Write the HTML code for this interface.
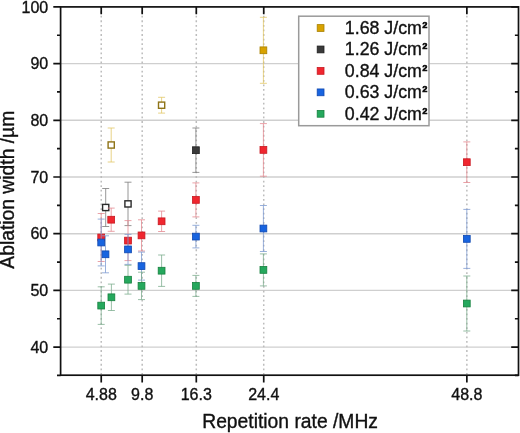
<!DOCTYPE html>
<html><head><meta charset="utf-8"><title>Ablation width vs repetition rate</title>
<style>html,body{margin:0;padding:0;background:#fff;}svg{display:block;}</style>
</head><body>
<svg width="520" height="433" viewBox="0 0 520 433">
<rect width="520" height="433" fill="#fff"/>
<line x1="60.60" y1="347.10" x2="518.50" y2="347.10" stroke="#cfcfcf" stroke-width="1.4"/>
<line x1="60.60" y1="290.40" x2="518.50" y2="290.40" stroke="#cfcfcf" stroke-width="1.4"/>
<line x1="60.60" y1="233.70" x2="518.50" y2="233.70" stroke="#cfcfcf" stroke-width="1.4"/>
<line x1="60.60" y1="177.00" x2="518.50" y2="177.00" stroke="#cfcfcf" stroke-width="1.4"/>
<line x1="60.60" y1="120.30" x2="518.50" y2="120.30" stroke="#cfcfcf" stroke-width="1.4"/>
<line x1="60.60" y1="63.60" x2="518.50" y2="63.60" stroke="#cfcfcf" stroke-width="1.4"/>
<line x1="101.23" y1="6.62" x2="101.23" y2="374.40" stroke="#bcbcbc" stroke-width="1.5" stroke-dasharray="1.8 2.78"/>
<line x1="142.19" y1="6.62" x2="142.19" y2="374.40" stroke="#bcbcbc" stroke-width="1.5" stroke-dasharray="1.8 2.78"/>
<line x1="196.30" y1="6.62" x2="196.30" y2="374.40" stroke="#bcbcbc" stroke-width="1.5" stroke-dasharray="1.8 2.78"/>
<line x1="263.73" y1="6.62" x2="263.73" y2="374.40" stroke="#bcbcbc" stroke-width="1.5" stroke-dasharray="1.8 2.78"/>
<line x1="466.86" y1="6.62" x2="466.86" y2="374.40" stroke="#bcbcbc" stroke-width="1.5" stroke-dasharray="1.8 2.78"/>
<path d="M111.20 128.00V162.00M107.70 128.00H114.70M107.70 162.00H114.70" stroke="#e2c868" stroke-width="0.8" fill="none"/>
<path d="M161.60 97.30V113.10M158.10 97.30H165.10M158.10 113.10H165.10" stroke="#e2c868" stroke-width="0.8" fill="none"/>
<path d="M263.40 17.30V83.30M259.90 17.30H266.90M259.90 83.30H266.90" stroke="#e2c868" stroke-width="0.8" fill="none"/>
<rect x="108.10" y="141.90" width="6.20" height="6.20" fill="#fff" stroke="#8f7418" stroke-width="1.4"/>
<rect x="158.50" y="102.10" width="6.20" height="6.20" fill="#fff" stroke="#8f7418" stroke-width="1.4"/>
<rect x="260.00" y="46.90" width="6.80" height="6.80" fill="#D8A200" stroke="#a88000" stroke-width="0.8"/>
<path d="M105.70 188.50V226.50M102.20 188.50H109.20M102.20 226.50H109.20" stroke="#7c7c7c" stroke-width="0.8" fill="none"/>
<path d="M128.00 182.20V225.60M124.50 182.20H131.50M124.50 225.60H131.50" stroke="#7c7c7c" stroke-width="0.8" fill="none"/>
<path d="M195.90 128.00V172.40M192.40 128.00H199.40M192.40 172.40H199.40" stroke="#7c7c7c" stroke-width="0.8" fill="none"/>
<rect x="102.60" y="204.40" width="6.20" height="6.20" fill="#fff" stroke="#2a2a2a" stroke-width="1.4"/>
<rect x="124.90" y="200.80" width="6.20" height="6.20" fill="#fff" stroke="#2a2a2a" stroke-width="1.4"/>
<rect x="192.50" y="146.80" width="6.80" height="6.80" fill="#3a3a3a" stroke="#1e1e1e" stroke-width="0.8"/>
<path d="M101.20 213.50V261.50M97.70 213.50H104.70M97.70 261.50H104.70" stroke="#e48a92" stroke-width="0.8" fill="none"/>
<path d="M111.20 208.10V231.30M107.70 208.10H114.70M107.70 231.30H114.70" stroke="#e48a92" stroke-width="0.8" fill="none"/>
<path d="M128.00 220.60V260.60M124.50 220.60H131.50M124.50 260.60H131.50" stroke="#e48a92" stroke-width="0.8" fill="none"/>
<path d="M141.50 219.80V251.00M138.00 219.80H145.00M138.00 251.00H145.00" stroke="#e48a92" stroke-width="0.8" fill="none"/>
<path d="M161.60 211.10V231.50M158.10 211.10H165.10M158.10 231.50H165.10" stroke="#e48a92" stroke-width="0.8" fill="none"/>
<path d="M195.90 182.90V216.90M192.40 182.90H199.40M192.40 216.90H199.40" stroke="#e48a92" stroke-width="0.8" fill="none"/>
<path d="M263.40 123.60V176.20M259.90 123.60H266.90M259.90 176.20H266.90" stroke="#e48a92" stroke-width="0.8" fill="none"/>
<path d="M466.80 141.90V182.50M463.30 141.90H470.30M463.30 182.50H470.30" stroke="#e48a92" stroke-width="0.8" fill="none"/>
<rect x="97.80" y="234.10" width="6.80" height="6.80" fill="#F0262F" stroke="#c81820" stroke-width="0.8"/>
<rect x="107.80" y="216.30" width="6.80" height="6.80" fill="#F0262F" stroke="#c81820" stroke-width="0.8"/>
<rect x="124.60" y="237.20" width="6.80" height="6.80" fill="#F0262F" stroke="#c81820" stroke-width="0.8"/>
<rect x="138.10" y="232.00" width="6.80" height="6.80" fill="#F0262F" stroke="#c81820" stroke-width="0.8"/>
<rect x="158.20" y="217.90" width="6.80" height="6.80" fill="#F0262F" stroke="#c81820" stroke-width="0.8"/>
<rect x="192.50" y="196.50" width="6.80" height="6.80" fill="#F0262F" stroke="#c81820" stroke-width="0.8"/>
<rect x="260.00" y="146.50" width="6.80" height="6.80" fill="#F0262F" stroke="#c81820" stroke-width="0.8"/>
<rect x="463.40" y="158.80" width="6.80" height="6.80" fill="#F0262F" stroke="#c81820" stroke-width="0.8"/>
<path d="M101.20 219.10V265.90M97.70 219.10H104.70M97.70 265.90H104.70" stroke="#7f9cd2" stroke-width="0.8" fill="none"/>
<path d="M105.50 235.80V272.80M102.00 235.80H109.00M102.00 272.80H109.00" stroke="#7f9cd2" stroke-width="0.8" fill="none"/>
<path d="M128.00 234.40V264.40M124.50 234.40H131.50M124.50 264.40H131.50" stroke="#7f9cd2" stroke-width="0.8" fill="none"/>
<path d="M141.50 252.10V280.10M138.00 252.10H145.00M138.00 280.10H145.00" stroke="#7f9cd2" stroke-width="0.8" fill="none"/>
<path d="M195.90 225.30V247.90M192.40 225.30H199.40M192.40 247.90H199.40" stroke="#7f9cd2" stroke-width="0.8" fill="none"/>
<path d="M263.40 205.50V251.50M259.90 205.50H266.90M259.90 251.50H266.90" stroke="#7f9cd2" stroke-width="0.8" fill="none"/>
<path d="M466.80 209.40V268.40M463.30 209.40H470.30M463.30 268.40H470.30" stroke="#7f9cd2" stroke-width="0.8" fill="none"/>
<rect x="97.80" y="239.10" width="6.80" height="6.80" fill="#1864E0" stroke="#1048b0" stroke-width="0.8"/>
<rect x="102.10" y="250.90" width="6.80" height="6.80" fill="#1864E0" stroke="#1048b0" stroke-width="0.8"/>
<rect x="124.60" y="246.00" width="6.80" height="6.80" fill="#1864E0" stroke="#1048b0" stroke-width="0.8"/>
<rect x="138.10" y="262.70" width="6.80" height="6.80" fill="#1864E0" stroke="#1048b0" stroke-width="0.8"/>
<rect x="192.50" y="233.20" width="6.80" height="6.80" fill="#1864E0" stroke="#1048b0" stroke-width="0.8"/>
<rect x="260.00" y="225.10" width="6.80" height="6.80" fill="#1864E0" stroke="#1048b0" stroke-width="0.8"/>
<rect x="463.40" y="235.50" width="6.80" height="6.80" fill="#1864E0" stroke="#1048b0" stroke-width="0.8"/>
<path d="M101.20 286.80V324.40M97.70 286.80H104.70M97.70 324.40H104.70" stroke="#7fae90" stroke-width="0.8" fill="none"/>
<path d="M111.40 284.10V310.50M107.90 284.10H114.90M107.90 310.50H114.90" stroke="#7fae90" stroke-width="0.8" fill="none"/>
<path d="M128.00 265.30V294.10M124.50 265.30H131.50M124.50 294.10H131.50" stroke="#7fae90" stroke-width="0.8" fill="none"/>
<path d="M141.50 272.20V299.60M138.00 272.20H145.00M138.00 299.60H145.00" stroke="#7fae90" stroke-width="0.8" fill="none"/>
<path d="M161.60 255.00V286.40M158.10 255.00H165.10M158.10 286.40H165.10" stroke="#7fae90" stroke-width="0.8" fill="none"/>
<path d="M195.90 275.40V296.40M192.40 275.40H199.40M192.40 296.40H199.40" stroke="#7fae90" stroke-width="0.8" fill="none"/>
<path d="M263.40 253.90V285.90M259.90 253.90H266.90M259.90 285.90H266.90" stroke="#7fae90" stroke-width="0.8" fill="none"/>
<path d="M466.80 276.00V331.00M463.30 276.00H470.30M463.30 331.00H470.30" stroke="#7fae90" stroke-width="0.8" fill="none"/>
<rect x="97.80" y="302.20" width="6.80" height="6.80" fill="#25A85D" stroke="#17803f" stroke-width="0.8"/>
<rect x="108.00" y="293.90" width="6.80" height="6.80" fill="#25A85D" stroke="#17803f" stroke-width="0.8"/>
<rect x="124.60" y="276.30" width="6.80" height="6.80" fill="#25A85D" stroke="#17803f" stroke-width="0.8"/>
<rect x="138.10" y="282.50" width="6.80" height="6.80" fill="#25A85D" stroke="#17803f" stroke-width="0.8"/>
<rect x="158.20" y="267.30" width="6.80" height="6.80" fill="#25A85D" stroke="#17803f" stroke-width="0.8"/>
<rect x="192.50" y="282.50" width="6.80" height="6.80" fill="#25A85D" stroke="#17803f" stroke-width="0.8"/>
<rect x="260.00" y="266.50" width="6.80" height="6.80" fill="#25A85D" stroke="#17803f" stroke-width="0.8"/>
<rect x="463.40" y="300.10" width="6.80" height="6.80" fill="#25A85D" stroke="#17803f" stroke-width="0.8"/>
<rect x="60.60" y="6.90" width="457.90" height="368.30" fill="none" stroke="#111" stroke-width="1.7"/>
<path d="M57.00 375.45H60.60M514.90 375.45H518.50M53.30 347.10H60.60M511.20 347.10H518.50M57.00 318.75H60.60M514.90 318.75H518.50M53.30 290.40H60.60M511.20 290.40H518.50M57.00 262.05H60.60M514.90 262.05H518.50M53.30 233.70H60.60M511.20 233.70H518.50M57.00 205.35H60.60M514.90 205.35H518.50M53.30 177.00H60.60M511.20 177.00H518.50M57.00 148.65H60.60M514.90 148.65H518.50M53.30 120.30H60.60M511.20 120.30H518.50M57.00 91.95H60.60M514.90 91.95H518.50M53.30 63.60H60.60M511.20 63.60H518.50M57.00 35.25H60.60M514.90 35.25H518.50M53.30 6.90H60.60M511.20 6.90H518.50M101.23 375.20V382.50M101.23 6.90V14.20M142.19 375.20V382.50M142.19 6.90V14.20M196.30 375.20V382.50M196.30 6.90V14.20M263.73 375.20V382.50M263.73 6.90V14.20M466.86 375.20V382.50M466.86 6.90V14.20" stroke="#111" stroke-width="1.7" fill="none"/>
<text x="48.2" y="352.70" font-family="Liberation Sans, Arial, sans-serif" stroke="#111" stroke-width="0.35" font-size="16" text-anchor="end" fill="#111">40</text>
<text x="48.2" y="296.00" font-family="Liberation Sans, Arial, sans-serif" stroke="#111" stroke-width="0.35" font-size="16" text-anchor="end" fill="#111">50</text>
<text x="48.2" y="239.30" font-family="Liberation Sans, Arial, sans-serif" stroke="#111" stroke-width="0.35" font-size="16" text-anchor="end" fill="#111">60</text>
<text x="48.2" y="182.60" font-family="Liberation Sans, Arial, sans-serif" stroke="#111" stroke-width="0.35" font-size="16" text-anchor="end" fill="#111">70</text>
<text x="48.2" y="125.90" font-family="Liberation Sans, Arial, sans-serif" stroke="#111" stroke-width="0.35" font-size="16" text-anchor="end" fill="#111">80</text>
<text x="48.2" y="69.20" font-family="Liberation Sans, Arial, sans-serif" stroke="#111" stroke-width="0.35" font-size="16" text-anchor="end" fill="#111">90</text>
<text x="48.2" y="12.50" font-family="Liberation Sans, Arial, sans-serif" stroke="#111" stroke-width="0.35" font-size="16" text-anchor="end" fill="#111">100</text>
<text x="101.23" y="399.6" font-family="Liberation Sans, Arial, sans-serif" stroke="#111" stroke-width="0.35" font-size="16" text-anchor="middle" fill="#111">4.88</text>
<text x="142.19" y="399.6" font-family="Liberation Sans, Arial, sans-serif" stroke="#111" stroke-width="0.35" font-size="16" text-anchor="middle" fill="#111">9.8</text>
<text x="196.30" y="399.6" font-family="Liberation Sans, Arial, sans-serif" stroke="#111" stroke-width="0.35" font-size="16" text-anchor="middle" fill="#111">16.3</text>
<text x="263.73" y="399.6" font-family="Liberation Sans, Arial, sans-serif" stroke="#111" stroke-width="0.35" font-size="16" text-anchor="middle" fill="#111">24.4</text>
<text x="466.86" y="399.6" font-family="Liberation Sans, Arial, sans-serif" stroke="#111" stroke-width="0.35" font-size="16" text-anchor="middle" fill="#111">48.8</text>
<text x="290.1" y="428.2" font-family="Liberation Sans, Arial, sans-serif" stroke="#111" stroke-width="0.35" font-size="19.3" text-anchor="middle" fill="#111">Repetition rate /MHz</text>
<text transform="translate(14.4 189.7) rotate(-90)" x="0" y="0" font-family="Liberation Sans, Arial, sans-serif" stroke="#111" stroke-width="0.35" font-size="19.3" text-anchor="middle" fill="#111">Ablation width /µm</text>
<rect x="298.7" y="16.2" width="130.3" height="109.5" fill="#fff" stroke="#9a9a9a" stroke-width="1.5"/>
<rect x="317.20" y="24.60" width="6.80" height="6.80" fill="#D8A200" stroke="#a88000" stroke-width="0.8"/>
<text x="344.8" y="33.70" font-family="Liberation Sans, Arial, sans-serif" stroke="#111" stroke-width="0.35" font-size="17.8" fill="#111">1.68 J/cm<tspan font-size="14" stroke-width="0.9" dx="0.6" dy="-1.9">²</tspan></text>
<rect x="317.20" y="46.05" width="6.80" height="6.80" fill="#3a3a3a" stroke="#1e1e1e" stroke-width="0.8"/>
<text x="344.8" y="55.15" font-family="Liberation Sans, Arial, sans-serif" stroke="#111" stroke-width="0.35" font-size="17.8" fill="#111">1.26 J/cm<tspan font-size="14" stroke-width="0.9" dx="0.6" dy="-1.9">²</tspan></text>
<rect x="317.20" y="67.50" width="6.80" height="6.80" fill="#F0262F" stroke="#c81820" stroke-width="0.8"/>
<text x="344.8" y="76.60" font-family="Liberation Sans, Arial, sans-serif" stroke="#111" stroke-width="0.35" font-size="17.8" fill="#111">0.84 J/cm<tspan font-size="14" stroke-width="0.9" dx="0.6" dy="-1.9">²</tspan></text>
<rect x="317.20" y="88.95" width="6.80" height="6.80" fill="#1864E0" stroke="#1048b0" stroke-width="0.8"/>
<text x="344.8" y="98.05" font-family="Liberation Sans, Arial, sans-serif" stroke="#111" stroke-width="0.35" font-size="17.8" fill="#111">0.63 J/cm<tspan font-size="14" stroke-width="0.9" dx="0.6" dy="-1.9">²</tspan></text>
<rect x="317.20" y="110.40" width="6.80" height="6.80" fill="#25A85D" stroke="#17803f" stroke-width="0.8"/>
<text x="344.8" y="119.50" font-family="Liberation Sans, Arial, sans-serif" stroke="#111" stroke-width="0.35" font-size="17.8" fill="#111">0.42 J/cm<tspan font-size="14" stroke-width="0.9" dx="0.6" dy="-1.9">²</tspan></text>
</svg>
</body></html>
